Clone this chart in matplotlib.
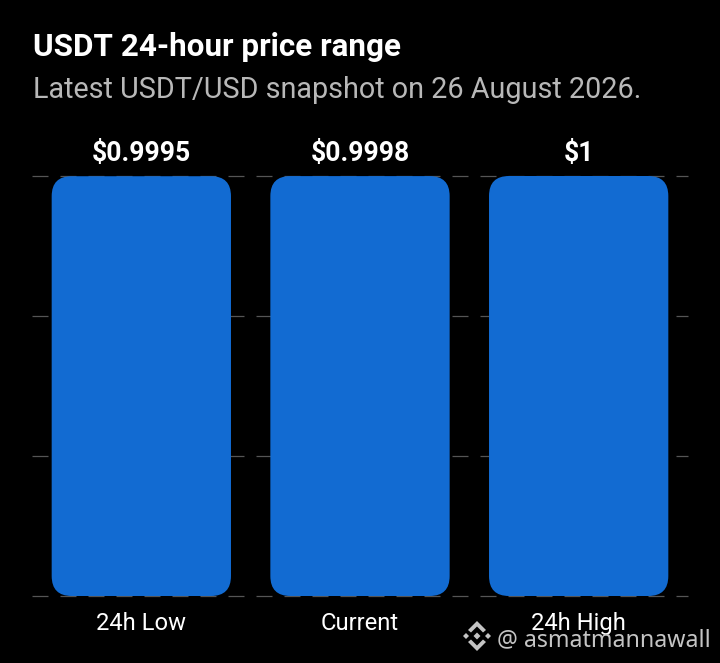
import matplotlib
matplotlib.use('Agg')
import matplotlib.pyplot as plt
from matplotlib.patches import FancyBboxPatch, Polygon

categories = ['24h Low', 'Current', '24h High']
prices = [0.9995, 0.9998, 1.0]
value_labels = ['$0.9995', '$0.9998', '$1']
y_ticks = [0, 1 / 3, 2 / 3, 1]

W, H = 720, 663
BG = '#000000'
BAR = '#126BD2'

plt.rcParams['font.family'] = ['Roboto', 'DejaVu Sans']
plt.rcParams['lines.scale_dashes'] = False

fig = plt.figure(figsize=(W / 100, H / 100), dpi=100, facecolor=BG)

# axes box in pixels, from the reference
left, right, top, bottom = 32, 688, 176, 596
ax = fig.add_axes([left / W, 1 - bottom / H, (right - left) / W, (bottom - top) / H], facecolor=BG)
ax.set_xlim(-0.5, 2.5)
ax.set_ylim(0, 1)

ax.set_yticks(y_ticks)
ax.set_yticklabels([])
ax.grid(axis='y', color='#555555', linewidth=0.9, linestyle=(0, (11.52, 8.64)), dash_capstyle='butt')
ax.set_axisbelow(True)
ax.tick_params(left=False, bottom=False)
for s in ax.spines.values():
    s.set_visible(False)
for line in ax.get_ygridlines():
    line.set_clip_on(False)

# rounded bars, corner radius about 20px with the bezier corners
px_x = (right - left) / 3
px_y = bottom - top
bar_w = 0.82
for i, p in enumerate(prices):
    patch = FancyBboxPatch((i - bar_w / 2, 0), bar_w, p,
                           boxstyle='round,pad=0,rounding_size=%f' % (20 / px_x),
                           mutation_aspect=px_x / px_y,
                           facecolor=BAR, edgecolor='none', zorder=3, clip_on=False)
    ax.add_patch(patch)
    ax.annotate(value_labels[i], (i, 1), xytext=(0, 9.5), textcoords='offset pixels',
                ha='center', va='bottom', color='white', fontsize=19.1, fontweight='bold')

ax.set_xticks(range(len(categories)))
ax.set_xticklabels(categories, color='white', fontsize=17.1)
ax.tick_params(axis='x', pad=8.2)

fig.text(33 / W, 1 - 56 / H, 'USDT 24-hour price range', color='white', fontsize=22.6, fontweight='bold', va='baseline')
fig.text(33 / W, 1 - 98 / H, 'Latest USDT/USD snapshot on 26 August 2026.', color='#b8b8b8', fontsize=20.7, va='baseline')

# watermark
wm = '#c4c4c4'
fig.text(497 / W, 1 - 646 / H, '@ asmatmannawall', color=wm, fontsize=16.7, family=['Noto Sans', 'DejaVu Sans'], va='baseline')


def px_poly(pts):
    fig.patches.append(Polygon([(x / W, 1 - y / H) for x, y in pts], closed=True, transform=fig.transFigure,
                               facecolor=wm, edgecolor='none', figure=fig))


cx, cy = 477, 636
for dx, dy, r in [(0, 0, 3.5), (-11, 0, 3), (11, 0, 3)]:
    px_poly([(cx + dx - r, cy + dy), (cx + dx, cy + dy - r), (cx + dx + r, cy + dy), (cx + dx, cy + dy + r)])
for sign in (-1, 1):
    px_poly([(cx - 9, cy + sign * 6), (cx, cy + sign * 15), (cx + 9, cy + sign * 6), (cx + 6, cy + sign * 3.5),
             (cx, cy + sign * 9.5), (cx - 6, cy + sign * 3.5)])

fig.savefig('out.png', dpi=100, facecolor=BG)
